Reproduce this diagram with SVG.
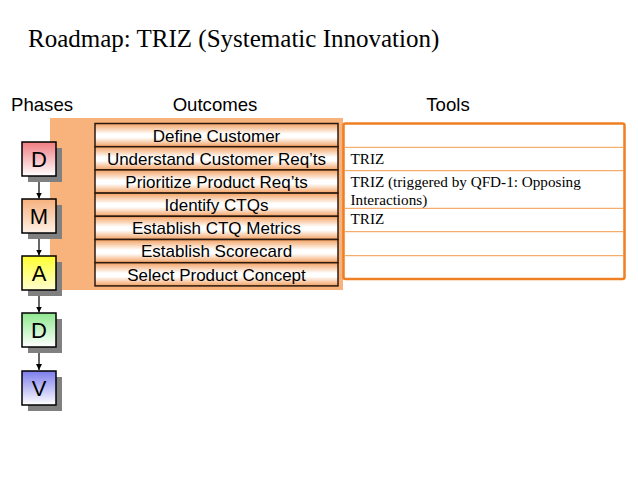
<svg xmlns="http://www.w3.org/2000/svg" width="638" height="478" viewBox="0 0 638 478">
<defs>
<style>
.t{font-family:"Liberation Serif","Times New Roman",serif;fill:#000}
.s{font-family:"Liberation Sans",Arial,sans-serif;fill:#000}
.row{fill:url(#rowg);stroke:#2a1a10;stroke-width:1.5}
.pb{stroke:#000;stroke-width:1.5}
.sh{fill:#808080}
.tl{stroke:#f39a4a;stroke-width:1}
.con{stroke:#000;stroke-width:1.2;fill:none;marker-end:url(#ah)}
</style>
<linearGradient id="rowg" x1="0" y1="0" x2="0" y2="1">
<stop offset="0" stop-color="#f3a060"/><stop offset="0.45" stop-color="#fff"/><stop offset="0.6" stop-color="#fff"/><stop offset="1" stop-color="#f3a060"/>
</linearGradient>
<linearGradient id="gD" x1="0" y1="0" x2="0" y2="1"><stop offset="0" stop-color="#f07c80"/><stop offset="1" stop-color="#fff"/></linearGradient>
<linearGradient id="gM" x1="0" y1="0" x2="0" y2="1"><stop offset="0" stop-color="#f6b07c"/><stop offset="1" stop-color="#fff2e8"/></linearGradient>
<linearGradient id="gA" x1="0" y1="0" x2="0" y2="1"><stop offset="0" stop-color="#ffff30"/><stop offset="1" stop-color="#ffffd0"/></linearGradient>
<linearGradient id="gD2" x1="0" y1="0" x2="0" y2="1"><stop offset="0" stop-color="#8ee88e"/><stop offset="1" stop-color="#fff"/></linearGradient>
<linearGradient id="gV" x1="0" y1="0" x2="0" y2="1"><stop offset="0" stop-color="#7c7cec"/><stop offset="1" stop-color="#fff"/></linearGradient>
<marker id="ah" viewBox="0 0 10 10" refX="10" refY="5" markerWidth="6" markerHeight="6" orient="auto" markerUnits="userSpaceOnUse"><path d="M0,0 L10,5 L0,10 z" fill="#000"/></marker>
</defs>
<rect width="638" height="478" fill="#fff"/>
<text class="t" x="28" y="47" font-size="25">Roadmap: TRIZ (Systematic Innovation)</text>
<text class="s" x="11" y="111" font-size="18.6">Phases</text>
<text class="s" x="215" y="111" font-size="18.6" text-anchor="middle">Outcomes</text>
<text class="s" x="448" y="111" font-size="18.6" text-anchor="middle">Tools</text>

<rect x="50" y="118" width="293" height="172" fill="#f8b27c"/>

<g id="outcomes">
<rect class="row" x="95" y="123.5" width="243" height="23.2"/>
<rect class="row" x="95" y="146.7" width="243" height="23.2"/>
<rect class="row" x="95" y="169.9" width="243" height="23.2"/>
<rect class="row" x="95" y="193.1" width="243" height="23.2"/>
<rect class="row" x="95" y="216.3" width="243" height="23.2"/>
<rect class="row" x="95" y="239.5" width="243" height="23.2"/>
<rect class="row" x="95" y="262.7" width="243" height="23.2"/>
<g class="s" font-size="17" text-anchor="middle">
<text x="216.5" y="141.5">Define Customer</text>
<text x="216.5" y="164.5">Understand Customer Req’ts</text>
<text x="216.5" y="187.5">Prioritize Product Req’ts</text>
<text x="216.5" y="211">Identify CTQs</text>
<text x="216.5" y="234">Establish CTQ Metrics</text>
<text x="216.5" y="257">Establish Scorecard</text>
<text x="216.5" y="280.5">Select Product Concept</text>
</g>
</g>

<g id="tools">
<rect x="343.5" y="123.5" width="281" height="155.5" rx="2" fill="#fff" stroke="#ee7f22" stroke-width="2.5"/>
<line class="tl" x1="344" y1="147.3" x2="624" y2="147.3"/>
<line class="tl" x1="344" y1="170.7" x2="624" y2="170.7"/>
<line class="tl" x1="344" y1="208.3" x2="624" y2="208.3"/>
<line class="tl" x1="344" y1="231.7" x2="624" y2="231.7"/>
<line class="tl" x1="344" y1="255.7" x2="624" y2="255.7"/>
<g class="t" font-size="15.2">
<text x="350.5" y="163.5">TRIZ</text>
<text x="350.5" y="187">TRIZ (triggered by QFD-1: Opposing</text>
<text x="350.5" y="204.5">Interactions)</text>
<text x="350.5" y="223.5">TRIZ</text>
</g>
</g>

<g id="connectors">
<line class="con" x1="39" y1="176" x2="39" y2="198.5"/>
<line class="con" x1="39" y1="233" x2="39" y2="255.5"/>
<line class="con" x1="39" y1="290" x2="39" y2="312.5"/>
<line class="con" x1="39" y1="347" x2="39" y2="370"/>
</g>

<g id="phase-D">
<rect class="sh" x="28" y="148" width="34" height="34"/>
<rect class="pb" x="22" y="142" width="34" height="34" fill="url(#gD)"/>
<text class="s" x="39" y="167" font-size="22" text-anchor="middle">D</text>
</g>
<g id="phase-M">
<rect class="sh" x="28" y="205" width="34" height="34"/>
<rect class="pb" x="22" y="199" width="34" height="34" fill="url(#gM)"/>
<text class="s" x="39" y="224" font-size="22" text-anchor="middle">M</text>
</g>
<g id="phase-A">
<rect class="sh" x="28" y="262" width="34" height="34"/>
<rect class="pb" x="22" y="256" width="34" height="34" fill="url(#gA)"/>
<text class="s" x="39" y="281" font-size="22" text-anchor="middle">A</text>
</g>
<g id="phase-D2">
<rect class="sh" x="28" y="319" width="34" height="34"/>
<rect class="pb" x="22" y="313" width="34" height="34" fill="url(#gD2)"/>
<text class="s" x="39" y="338" font-size="22" text-anchor="middle">D</text>
</g>
<g id="phase-V">
<rect class="sh" x="28" y="377" width="34" height="34"/>
<rect class="pb" x="22" y="371" width="34" height="34" fill="url(#gV)"/>
<text class="s" x="39" y="396" font-size="22" text-anchor="middle">V</text>
</g>
</svg>
